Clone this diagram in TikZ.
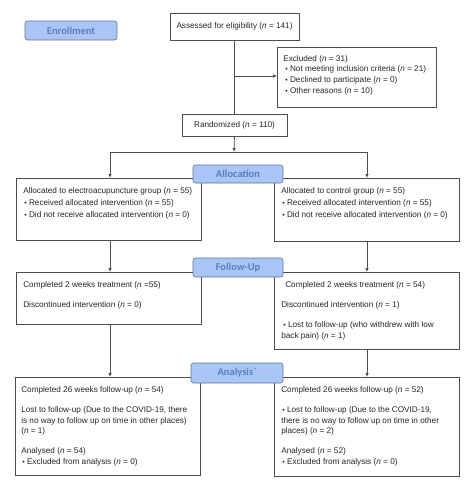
\documentclass[tikz,border=0pt]{standalone}
\usepackage{fontspec}
\setmainfont{Liberation Sans}
\newfontfamily\labfont{Carlito}
\usetikzlibrary{arrows.meta}
\definecolor{labfill}{HTML}{A9C6F7}
\definecolor{labdraw}{HTML}{5F7396}
\definecolor{labtext}{HTML}{5B7EBD}
\definecolor{boxdraw}{HTML}{4D4D4D}
\definecolor{txt}{HTML}{262626}
\newcommand{\fst}{\rule{0pt}{15pt}}
\newcommand{\bul}{{\scriptsize\textbullet}\ }
\newcommand{\nn}{\textit{n}}
\newcommand{\bx}[3]{\parbox[t][#2][t]{#1}{\setlength{\baselineskip}{10.6pt}\setlength{\parskip}{9.5pt}\setlength{\parindent}{0pt}\raggedright #3}}
\tikzset{
  box/.style={draw=boxdraw, line width=0.6pt, fill=white, text=txt, anchor=north west, inner xsep=0pt, inner ysep=0pt, font=\fontsize{8.2}{10.6}\selectfont},
  cbox/.style={draw=boxdraw, line width=0.6pt, fill=white, text=txt, inner sep=0pt, font=\fontsize{8.2}{10.6}\selectfont},
  lab/.style={draw=labdraw, line width=0.6pt, fill=labfill, rounded corners=2.5pt, inner sep=0pt, font=\labfont\bfseries\fontsize{10.5}{11}\selectfont, text=labtext},
  line/.style={draw=boxdraw, line width=0.7pt},
  arr/.style={line, -{Latex[length=4pt,width=3.5pt]}}
}
\begin{document}
\begin{tikzpicture}[x=1pt,y=-1pt]
\useasboundingbox (0,0) rectangle (474,482);
% enrollment
\node[cbox, minimum width=129pt, minimum height=27pt] (assess) at (234.5,26.5) {Assessed for eligibility (\nn\ = 141)};
\node[box] (excl) at (277,47) {\hspace{6pt}\bx{153pt}{60pt}{\rule{0pt}{14pt}Excluded (\nn\ = 31)\\
\hspace*{2pt}\bul Not meeting inclusion criteria (\nn\ = 21)\\
\hspace*{2pt}\bul Declined to participate (\nn\ = 0)\\
\hspace*{2pt}\bul Other reasons (\nn\ = 10)}};
\node[cbox, minimum width=105pt, minimum height=22pt] (rand) at (234.5,125) {Randomized (\nn\ = 110)};
\coordinate (branch) at (234,76);
\coordinate (split) at (234,152);
\coordinate (sl) at (110,152);
\coordinate (sr) at (367,152);
% allocation
\node[box] (allL) at (16,178) {\hspace{7pt}\bx{178pt}{62pt}{\setlength{\baselineskip}{12pt}\fst Allocated to electroacupuncture group (\nn\ = 55)\\
\hspace*{1pt}\bul Received allocated intervention (\nn\ = 55)\\
\hspace*{1pt}\bul Did not receive allocated intervention (\nn\ = 0)}};
\node[box] (allR) at (274,178) {\hspace{7pt}\bx{178pt}{63pt}{\setlength{\baselineskip}{12pt}\fst Allocated to control group (\nn\ = 55)\\
\hspace*{1pt}\bul Received allocated intervention (\nn\ = 55)\\
\hspace*{1pt}\bul Did not receive allocated intervention (\nn\ = 0)}};
% follow-up
\node[box] (fuL) at (16,272) {\hspace{7pt}\bx{178pt}{52pt}{\fst Completed 2 weeks treatment (\nn\ =55)

Discontinued intervention (\nn\ = 0)}};
\node[box] (fuR) at (274,272) {\hspace{7pt}\bx{178pt}{77pt}{\fst\hspace*{4pt}Completed 2 weeks treatment (\nn\ = 54)

Discontinued intervention (\nn\ = 1)

\hspace*{2pt}\bul Lost to follow-up (who withdrew with low\\ back pain) (\nn\ = 1)}};
% analysis
\node[box] (anL) at (15,377) {\hspace{6pt}\bx{179pt}{98pt}{\fst Completed 26 weeks follow-up (\nn\ = 54)

Lost to follow-up (Due to the COVID-19, there\\ is no way to follow up on time in other places)\\ (\nn\ = 1)

Analysed (\nn\ = 54)\\
\hspace*{1pt}\bul Excluded from analysis (\nn\ = 0)}};
\node[box] (anR) at (274,377) {\hspace{7pt}\bx{178pt}{99pt}{\fst Completed 26 weeks follow-up (\nn\ = 52)

\hspace*{1pt}\bul Lost to follow-up (Due to the COVID-19,\\ there is no way to follow up on time in other\\ places) (\nn\ = 2)

Analysed (\nn\ = 52)\\
\hspace*{1pt}\bul Excluded from analysis (\nn\ = 0)}};
% connectors
\draw[line] (assess.south) -- (rand.north);
\draw[arr] (branch) -- (excl.west |- branch);
\draw[arr] (rand.south) -- (split);
\draw[line] (sl) -- (sr);
\draw[arr] (sl) -- (sl |- allL.north);
\draw[arr] (sr) -- (sr |- allR.north);
\draw[arr] (allL.south -| sl) -- (sl |- fuL.north);
\draw[arr] (allR.south -| sr) -- (sr |- fuR.north);
\draw[arr] (fuL.south -| sl) -- (sl |- anL.north);
\draw[arr] (fuR.south -| sr) -- (sr |- anR.north);
% stage labels
\node[lab, minimum width=92pt, minimum height=19pt] (enr) at (71,30.5) {Enrollment};
\node[lab, minimum width=90pt, minimum height=18pt] (alloc) at (238,174) {Allocation};
\node[lab, minimum width=90pt, minimum height=19pt] (fol) at (238,267.5) {Follow-Up};
\node[lab, minimum width=92pt, minimum height=20pt] (ana) at (237,373) {Analysis`};
\end{tikzpicture}
\end{document}
